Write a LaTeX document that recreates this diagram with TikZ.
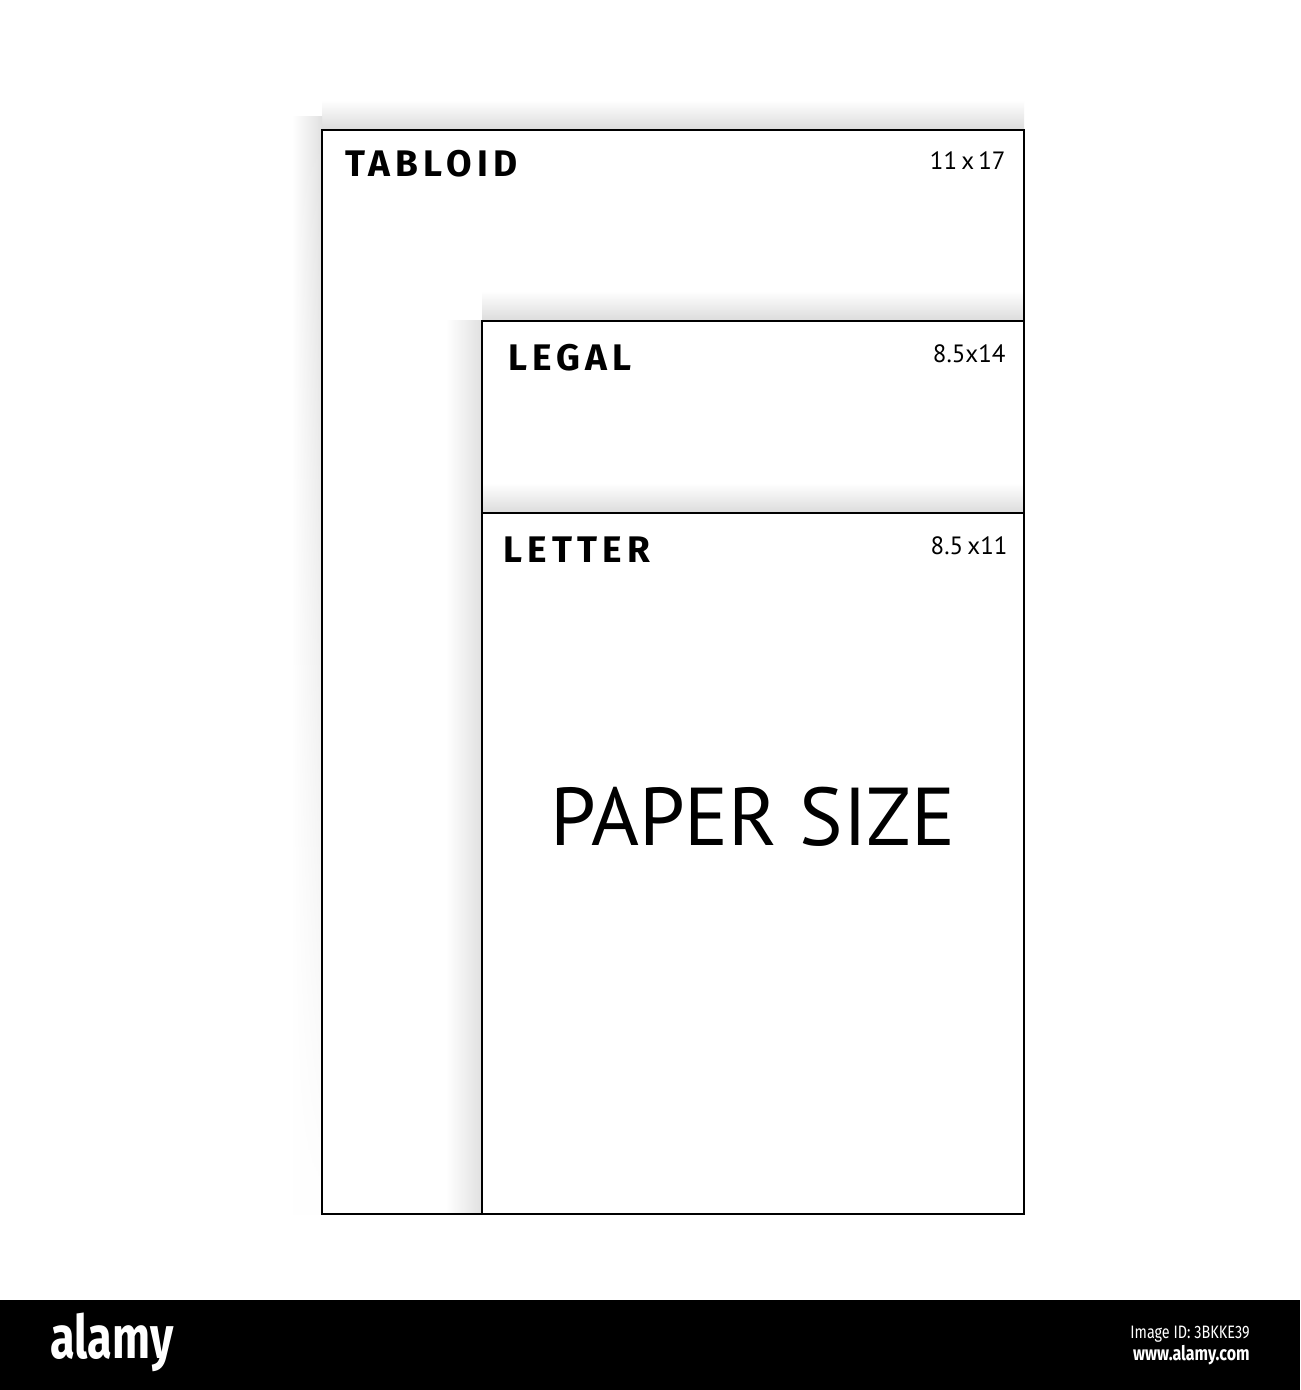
\documentclass[tikz,border=0pt]{standalone}
\usepackage{fontspec}
\setmainfont{PT Sans}
\newfontfamily\labfont[LetterSpace=14]{Fira Sans}
\newfontfamily\dimfont{PT Sans}
\newfontfamily\logofont{Fira Sans}
\usetikzlibrary{fadings}
\begin{document}
\begin{tikzpicture}[x=0.5pt,y=-0.5pt,
  sheet/.style={draw=black,line width=1.3pt},
  shadeV/.style={top color=white,bottom color=black!14,draw=none},
  shadeH/.style={left color=white,right color=black!12,draw=none},
  lab/.style={inner sep=0pt,font=\labfont\bfseries\fontsize{18.5pt}{18.5pt}\selectfont},
  dim/.style={inner sep=0pt,font=\dimfont\fontsize{12.5pt}{12.5pt}\selectfont},
  wm/.style={inner sep=0pt,text=white}]
\useasboundingbox (0,0) rectangle (1300,1390);
\fill[white] (0,0) rectangle (1300,1390);
% shadows
\shade[shadeV] (322,100) rectangle (1024,130);
\shade[shadeH,path fading=south] (292,115) rectangle (322,1214);
\shade[shadeV] (482,291) rectangle (1024,321);
\shade[shadeH] (446,321) rectangle (482,1214);
\shade[shadeV] (482,483) rectangle (1024,513);
% sheets
\draw[sheet] (322,130) rectangle (1024,1214);
\draw[sheet] (482,321) rectangle (1024,513);
\draw[sheet] (482,513) rectangle (1024,1214);
% labels
\node[lab,anchor=base west] (tab) at (345,177) {TABLOID};
\node[dim,anchor=base east] (tabd) at (1006,170) {11\,x\,17};
\node[lab,anchor=base west] (leg) at (508,370) {LEGAL};
\node[dim,anchor=base east] (legd) at (1006,362) {8.5x14};
\node[lab,anchor=base west] (let) at (503,562) {LETTER};
\node[dim,anchor=base east] (letd) at (1008,554) {8.5\,x11};
\node[inner sep=0pt,anchor=base,font=\fontsize{41pt}{41pt}\selectfont] (ps) at (753,845) {PAPER SIZE};
% watermark bar
\fill[black] (0,1300) rectangle (1300,1390);
\node[wm,anchor=base west,font=\logofont\bfseries\fontsize{30pt}{30pt}\selectfont] (logo) at (50,1358) {\scalebox{0.75}[1]{alamy}};
\node[wm,anchor=base east,font=\logofont\fontsize{9pt}{9pt}\selectfont] (iid) at (1250,1338) {\scalebox{0.8}[1]{Image ID: 3BKKE39}};
\node[wm,anchor=base east,font=\logofont\bfseries\fontsize{10pt}{10pt}\selectfont] (url) at (1250,1360) {\scalebox{0.8}[1]{www.alamy.com}};
\end{tikzpicture}
\end{document}
